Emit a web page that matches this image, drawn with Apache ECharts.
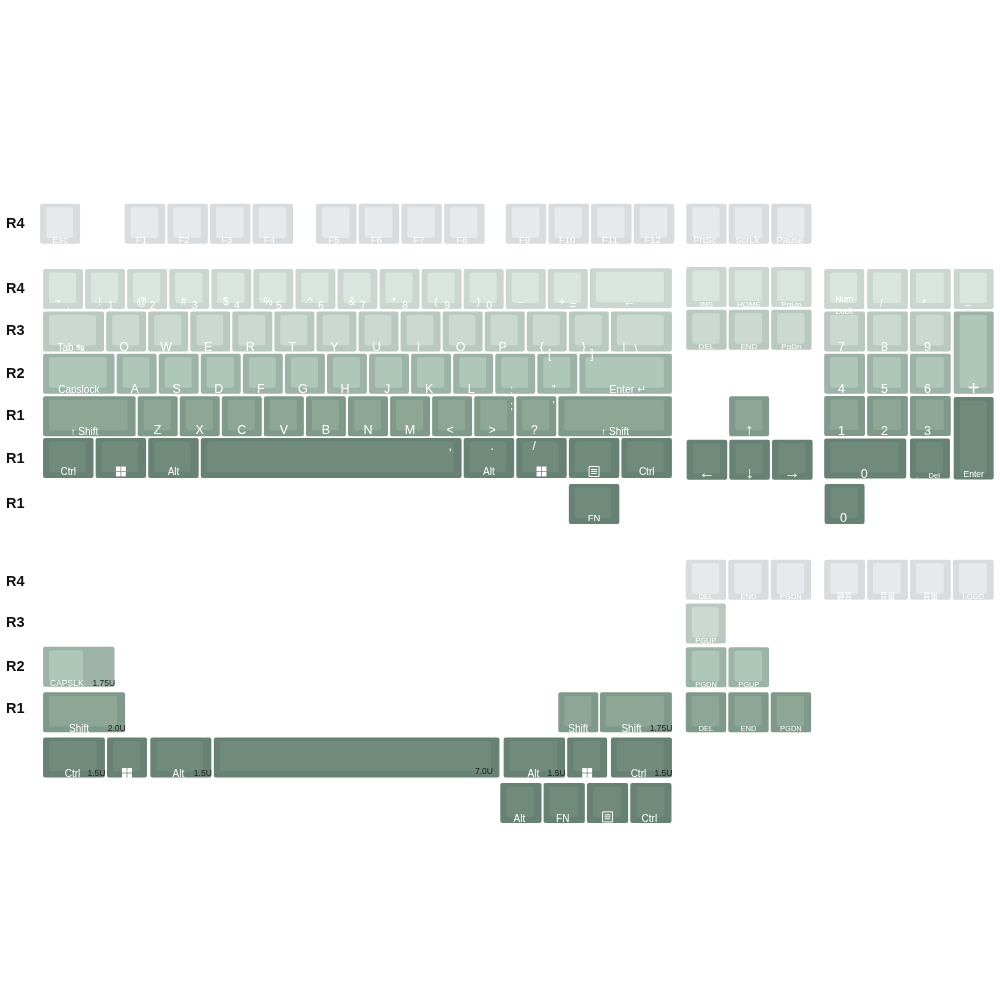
<!DOCTYPE html>
<html>
<head>
<meta charset="utf-8">
<title>Keycap layout</title>
<style>
    html, body { margin: 0; padding: 0; background: #fff; }
    #chart { width: 1000px; height: 1000px; }
</style>
<script src="https://cdn.jsdelivr.net/npm/echarts@6/dist/echarts.min.js"></script>
</head>
<body>
<div id="chart"></div>
<script>
// key widths are in U (one keycap pitch), rows in keycap rows below the number row
var WIN = '#win', MENU = '#menu';

var fnLabels = ['F1', 'F2', 'F3', 'F4'];
var fnLabels2 = ['F5', 'F6', 'F7', 'F8'];
var fnLabels3 = ['F9', 'F10', 'F11', 'F12'];
var printLabels = ['PrtSc', 'ScrLk', 'Pause'];

var numberLabels = ['~ .', '! 1', '@ 2', '# 3', '$ 4', '% 5', '^ 6', '& 7', '* 8', '( 9', ') 0', '- _', '+ ='];
var tabLetters = ['Q', 'W', 'E', 'R', 'T', 'Y', 'U', 'I', 'O', 'P'];
var capsLetters = ['A', 'S', 'D', 'F', 'G', 'H', 'J', 'K', 'L'];
var shiftLetters = ['Z', 'X', 'C', 'V', 'B', 'N', 'M'];
var punctLabels = ['<\n,', '>\n.', '?\n/'];
var ctrlLabels = ['Ctrl', WIN, 'Alt', '', 'Alt', WIN, MENU, 'Ctrl'];
var ctrlWidths = [1.25, 1.25, 1.25, 6.25, 1.25, 1.25, 1.25, 1.25];

var navLabels = ['INS', 'HOME', 'PgUp'];
var navLabels2 = ['DEL', 'END', 'PgDn'];
var padLabels = ['/', '*'];
var padLabels2 = ['7', '8', '9'];
var padLabels3 = ['4', '5', '6'];
var padLabels4 = ['1', '2', '3'];

var extraLabels = ['DEL', 'END', 'PGDN'];
var mediaLabels = ['静音', '音量', '音量', 'LOGO'];
var altCtrlLabels = ['Alt', 'FN', MENU, 'Ctrl'];

var rowTitles = ['R4', 'R4', 'R3', 'R2', 'R1', 'R1', 'R1', 'R4', 'R3', 'R2', 'R1'];
var rowTitleRows = [-1.54, 0, 1, 2, 3, 4, 5.07, 6.91, 7.89, 8.92, 9.9];

// outer / inner colour of a keycap per row tone
var tones = {
    pale: ['#d9dcde', '#e6eaec'],
    r4: ['#ccd6d1', '#dbe5e0'],
    r3: ['#b9c9bf', '#cbd9d0'],
    r2: ['#9eb3a7', '#afc7b8'],
    r1: ['#7f9a8b', '#8ea696'],
    r0: ['#678274', '#708a7c']
};

var keys = [];
var ROW = 42.4;

// push one run of keys, laid out left to right from col
var addRun = function (labels, widths, col, row, tone, style) {
    style = style || {};
    labels.forEach(function (label, i) {
        var w = widths.length ? widths[i] : widths;
        keys.push({
            value: [col, row, w, style.h || 1],
            label: label,
            tone: tone,
            style: style,
            note: style.notes ? style.notes[i] : '',
            innerW: style.innerW
        });
        col += w;
    });
};

var letter = { size: 12.5, dx: -2, dy: -3.5 };

addRun(['Esc'], 1, -0.07, -1.54, 'pale', { size: 9.5, dy: -3 });
addRun(fnLabels, 1.014, 1.94, -1.54, 'pale', { size: 9.5, dx: -3.5, dy: -3 });
addRun(fnLabels2, 1.014, 6.49, -1.54, 'pale', { size: 9.5, dx: -2.5, dy: -3 });
addRun(fnLabels3, 1.014, 11, -1.54, 'pale', { size: 9.5, dx: -1.5, dy: -3 });
addRun(printLabels, 1.01, 15.29, -1.54, 'pale', { size: 9.5, dx: -1.5, dy: -3 });

addRun(numberLabels, 1, 0, 0, 'r4', { size: 10.5, dy: -5, pairDx: 11, pairDy: 4 });
addRun(['←'], 2, 13, -0.02, 'r4', { size: 13, bold: true, dx: -2, dy: -6 });

addRun(['Tab ↹'], 1.5, 0, 1, 'r3', { size: 10, dx: -2.5, dy: -3.5 });
addRun(tabLetters, 1, 1.5, 1, 'r3', letter);
addRun(['{ [', '} ]'], 1, 11.5, 1, 'r3', { size: 12, dx: -1, dy: -0.5, pairDx: 8, pairDy: 7 });
addRun(['| \\'], 1.5, 13.5, 1, 'r3', { size: 11, dx: -11.5, dy: -3, pairDx: 12, pairDy: 2 });

addRun(['Capslock'], 1.75, 0, 2, 'r2', { size: 10, dy: -4 });
addRun(capsLetters, 1, 1.75, 2, 'r2', { size: 12.5, dx: -2, dy: -4 });
addRun([': ;', '" \''], 1, 10.75, 2, 'r2', { size: 10, dx: -3.5, dy: 4, pairDx: 0, pairDy: 16 });
addRun(['Enter ↵'], 2.25, 12.75, 2, 'r2', { size: 10.5, dx: 2, dy: -4 });

addRun(['↑ Shift'], 2.25, 0, 3, 'r1', { size: 10, dx: -5, dy: -4 });
addRun(shiftLetters, 1, 2.25, 3, 'r1', { size: 12.5, dy: -5.5 });
addRun(punctLabels, 1, 9.25, 3, 'r1', { size: 12, dx: -2, dy: 2 });
addRun(['↑ Shift'], 2.75, 12.25, 3, 'r1', { size: 10, dy: -4 });
addRun(ctrlLabels, ctrlWidths, 0, 3.985, 'r0', { size: 10, dy: -6, iconDy: -6.5 });
addRun(['FN'], 1.25, 12.5, 5.07, 'r0', { size: 9.5, dy: -6 });

addRun(navLabels, 1.01, 15.29, -0.05, 'r4', { size: 8, dy: -2.5 });
addRun(navLabels2, 1.01, 15.29, 0.96, 'r3', { size: 8, dy: -3 });
addRun(['↑'], 1, 16.31, 3, 'r1', { size: 16, bold: true, dy: -6 });
addRun(['←', '↓', '→'], 1.015, 15.3, 4.03, 'r0', { size: 16, bold: true, dy: -6 });

addRun(['Num\nLock'], 1, 18.57, 0, 'r4', { size: 8.5, dy: -3.5 });
addRun(padLabels, 1.02, 19.59, 0, 'r4', { size: 10, dy: -4.5, dx: -6 });
addRun(['–'], 1, 21.65, 0, 'r4', { size: 11, dy: -4, dx: -6 });
addRun(padLabels2, 1.02, 18.57, 1, 'r3', { size: 12.5, dy: -4, dx: -3 });
addRun(['+'], 1, 21.65, 1, 'r2', { h: 2, size: 20, dy: -4 });
addRun(padLabels3, 1.02, 18.57, 2, 'r2', { size: 12.5, dy: -4, dx: -3 });
addRun(padLabels4, 1.02, 18.57, 2.995, 'r1', { size: 12.5, dy: -4.5, dx: -3 });
addRun(['0'], 2, 18.57, 4, 'r0', { size: 12.5, dy: -4, dx: -1 });
addRun(['.     Del'], 1, 20.61, 4, 'r0', { size: 7.5, dy: -3, dx: -2 });
addRun(['Enter'], 1, 21.65, 3.02, 'r0', { h: 2, size: 8.5, dy: -5 });
addRun(['0'], 1, 18.58, 5.07, 'r0', { size: 12.5, dy: -5, dx: -1 });

addRun(extraLabels, 1.01, 15.28, 6.86, 'pale', { size: 7.5, dy: -3 });
addRun(mediaLabels, 1.02, 18.57, 6.86, 'pale', { size: 7.5, dy: -3 });
addRun(['PGUP'], 1, 15.28, 7.89, 'r3', { size: 7.5, dy: -2.5 });
addRun(['PGDN', 'PGUP'], 1.015, 15.28, 8.92, 'r2', { size: 7.5, dy: -2.5 });
addRun(extraLabels, 1.01, 15.28, 9.98, 'r1', { size: 7.5, dy: -3 });

addRun(['CAPSLK'], 1.75, 0, 8.91, 'r2', { size: 8.5, dx: -12, dy: -3, notes: ['1.75U'], innerW: 34 });
addRun(['Shift'], 2, 0, 9.98, 'r1', { size: 10, dx: -5, dy: -3, notes: ['2.0U'] });
addRun(['Ctrl', WIN], [1.52, 1], 0, 11.05, 'r0', { size: 10, dx: -1.5, dy: -3.5, iconDy: -4.5, notes: ['1.5U', ''] });
addRun(['Alt'], 1.5, 2.55, 11.05, 'r0', { size: 10, dx: -2.5, dy: -3.5, notes: ['1.5U'] });
addRun([''], 6.84, 4.06, 11.05, 'r0', { notes: ['7.0U'], noteDx: -7, noteDy: -2 });
addRun(['Alt', WIN], [1.51, 1], 10.95, 11.05, 'r0', { size: 10, dx: -1, dy: -3.5, iconDy: -4.5, notes: ['1.5U', ''] });
addRun(['Ctrl'], 1.5, 13.5, 11.05, 'r0', { size: 10, dx: -3, dy: -3.5, notes: ['1.5U'] });
addRun(['Shift'], 1, 12.25, 9.98, 'r1', { size: 10, dy: -3 });
addRun(['Shift'], 1.76, 13.24, 9.98, 'r1', { size: 10, dx: -4.5, dy: -3, notes: ['1.75U'] });
addRun(altCtrlLabels, 1.03, 10.87, 12.12, 'r0', { size: 10, dx: -1.5, dy: -4, iconDy: -6 });

var fontFamily = '"Liberation Sans", "DejaVu Sans", "Noto Sans CJK SC", sans-serif';

var textEl = function (text, x, y, size, color, align, z, bold) {
    return {
        type: 'text',
        z2: z || 10,
        style: {
            text: text,
            x: x,
            y: y,
            fill: color || '#fff',
            font: (bold ? 'bold ' : '') + size + 'px ' + fontFamily,
            textAlign: align || 'center',
            textVerticalAlign: 'middle',
            lineHeight: size + 4
        }
    };
};

var winIcon = function (cx, cy) {
    var s = 4.6, gap = 0.7, out = [];
    [[-1, -1], [0, -1], [-1, 0], [0, 0]].forEach(function (p) {
        out.push({
            type: 'rect',
            z2: 10,
            shape: { x: cx + p[0] * (s + gap) + gap / 2, y: cy + p[1] * (s + gap) + gap / 2, width: s, height: s },
            style: { fill: '#fff' }
        });
    });
    return out;
};

var menuIcon = function (cx, cy) {
    var out = [{
        type: 'rect',
        z2: 10,
        shape: { x: cx - 5, y: cy - 5, width: 10, height: 10 },
        style: { fill: 'none', stroke: '#fff', lineWidth: 1 }
    }];
    [-2, 0, 2].forEach(function (d) {
        out.push({
            type: 'line',
            z2: 10,
            shape: { x1: cx - 3, y1: cy + d, x2: cx + 3, y2: cy + d },
            style: { stroke: '#fff', lineWidth: 1 }
        });
    });
    return out;
};

var renderKey = function (params, api) {
    var key = keys[params.dataIndex];
    var tone = tones[key.tone];
    var p = api.coord([api.value(0), api.value(1)]);
    var size = api.size([api.value(2), api.value(3)]);
    var w = size[0] - 2.1, h = size[1] - 2.4;
    var innerW = key.innerW || (w - 6 - (w > 45 ? 8 : 7));
    return {
        type: 'group',
        children: [{
            type: 'rect',
            shape: { x: p[0], y: p[1], width: w, height: h, r: 2 },
            style: { fill: tone[0] }
        }, {
            type: 'rect',
            shape: { x: p[0] + 6, y: p[1] + 3.5, width: innerW, height: h - 9.5, r: 2 },
            style: { fill: tone[1] }
        }]
    };
};

var renderLabel = function (params, api) {
    var key = keys[params.dataIndex];
    var st = key.style;
    var p = api.coord([api.value(0), api.value(1)]);
    var size = api.size([api.value(2), api.value(3)]);
    var w = size[0] - 2.1, h = size[1] - 2.4;
    var cx = p[0] + w / 2 + (st.dx || 0);
    var cy = p[1] + h + (st.dy || 0);
    var iconY = p[1] + h + (st.iconDy || -6);
    var children = [];
    if (key.label === WIN) {
        children = winIcon(p[0] + w / 2, iconY);
    } else if (key.label === MENU) {
        children = menuIcon(p[0] + w / 2, iconY);
    } else if (st.pairDx !== undefined && key.label.indexOf(' ') > 0) {
        var parts = key.label.split(' ');
        children.push(textEl(parts[0], cx - st.pairDx / 2, cy - st.pairDy / 2, st.size));
        children.push(textEl(parts[1], cx + st.pairDx / 2, cy + st.pairDy / 2, st.size));
    } else if (key.label) {
        children.push(textEl(key.label, cx, cy, st.size, null, null, null, st.bold));
    }
    if (key.note) {
        children.push(textEl(key.note, p[0] + w + 0.5 + (st.noteDx || 0), p[1] + h - 3.5 + (st.noteDy || 0), 8.5, '#222', 'right', 11));
    }
    return { type: 'group', children: children };
};

var chart = echarts.init(document.getElementById('chart'));
chart.setOption({
    animation: false,
    backgroundColor: '#fff',
    grid: { left: 1, right: 0, top: 0, bottom: 0 },
    xAxis: { type: 'value', min: -1, max: 22.75, show: false },
    // row 0 sits 269px down the page
    yAxis: { type: 'value', min: -269 / ROW, max: 731 / ROW, inverse: true, show: false },
    series: [{
        type: 'custom',
        coordinateSystem: 'cartesian2d',
        renderItem: renderKey,
        encode: { x: 0, y: 1 },
        data: keys.map(function (k) { return k.value; }),
        silent: true
    }, {
        type: 'custom',
        coordinateSystem: 'cartesian2d',
        renderItem: renderLabel,
        encode: { x: 0, y: 1 },
        data: keys.map(function (k) { return k.value; }),
        silent: true,
        z: 3
    }, {
        type: 'custom',
        coordinateSystem: 'cartesian2d',
        renderItem: function (params, api) {
            var p = api.coord([-0.88, api.value(0) + 0.47]);
            return {
                type: 'text',
                style: {
                    text: rowTitles[params.dataIndex],
                    x: p[0],
                    y: p[1],
                    fill: '#111',
                    font: 'bold 14.5px ' + fontFamily,
                    textVerticalAlign: 'middle'
                }
            };
        },
        data: rowTitleRows.map(function (r) { return [r]; }),
        silent: true
    }]
});
</script>
</body>
</html>
